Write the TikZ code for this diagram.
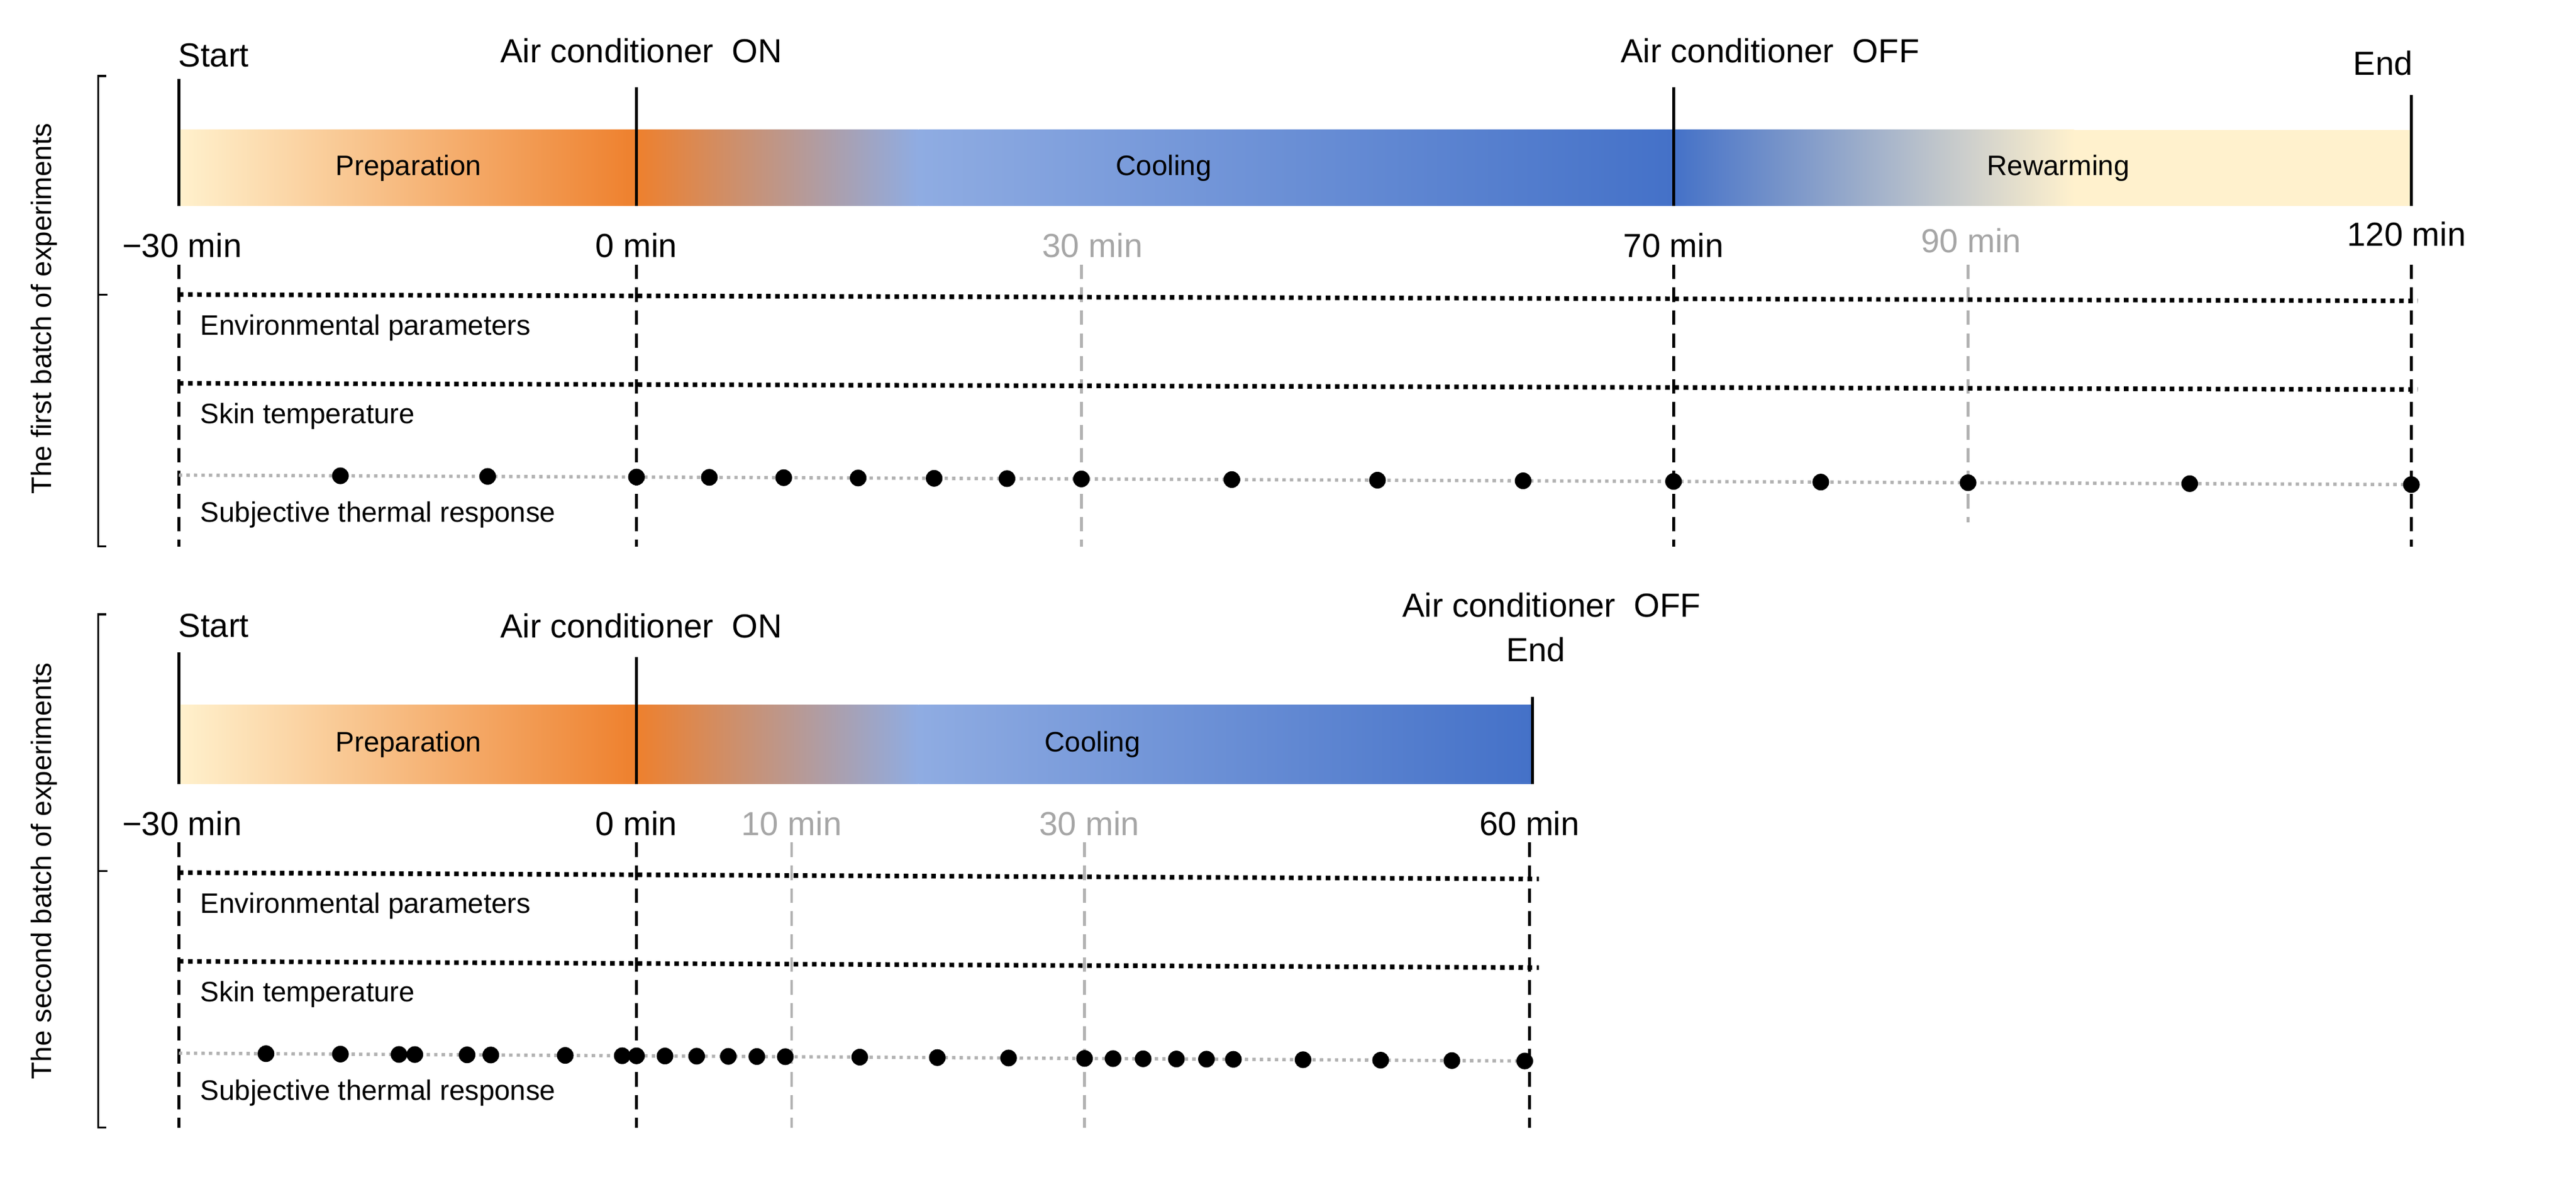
\documentclass[tikz,border=0pt]{standalone}
\usepackage{fontspec}
\setmainfont{Liberation Sans}
\begin{document}
\begin{tikzpicture}[x=0.02668cm,y=-0.02668cm,
 big/.style={font=\fontsize{16}{18}\selectfont},
 sm/.style={font=\fontsize{13.5}{15}\selectfont},
 gr/.style={text=gray!70},
 dd/.style={line width=1.3pt,dash pattern=on 7pt off 4pt},
 gd/.style={dd,gray!60},
 bd/.style={line width=2.2pt,dash pattern=on 2.2pt off 2.2pt},
 gdot/.style={line width=1.6pt,dash pattern=on 1.6pt off 2pt,gray!60},
 pt/.style={circle,fill=black,inner sep=0pt,minimum size=8pt}]
\useasboundingbox (0,0) rectangle (1627,757);
\definecolor{cr}{RGB}{255,241,205}
\definecolor{og}{RGB}{238,128,45}
\definecolor{lb}{RGB}{143,172,226}
\definecolor{bl}{RGB}{68,113,200}
% ---------- top panel
\shade[left color=cr,right color=og] (113,82) rectangle (402,130);
\shade[left color=og,right color=lb] (402,82) rectangle (580,130);
\shade[left color=lb,right color=bl] (580,82) rectangle (1057,130);
\shade[left color=bl,right color=cr] (1057,82) rectangle (1310,130);
\fill[cr] (1310,82) rectangle (1523,130);
\foreach \x/\t in {113/50,402/55,1057/55,1523/60} \draw[line width=1.3pt] (\x,\t)--(\x,130);
\node[big] (s1) at (135,35) {Start};
\node[big] (on1) at (405,32) {Air conditioner\ \ ON};
\node[big] (off1) at (1118,32) {Air conditioner\ \ OFF};
\node[big] (e1) at (1505,40) {End};
\node[sm] at (258,106) {Preparation};
\node[sm] at (735,106) {Cooling};
\node[sm] at (1300,106) {Rewarming};
\node[big] at (115,155) {−30 min};
\node[big] at (402,155) {0 min};
\node[big,gr] at (690,155) {30 min};
\node[big] at (1057,155) {70 min};
\node[big,gr] at (1245,152) {90 min};
\node[big] at (1520,148) {120 min};
\foreach \x in {113,402,1057,1523} \draw[dd] (\x,167)--(\x,345);
\draw[gd] (683,167)--(683,345);
\draw[gd] (1243,167)--(1243,330);
\draw[bd] (113,186)--(1527,190);
\draw[bd] (113,242)--(1527,246);
\draw[gdot] (113,300)--(1527,306);
\foreach \x in {215,308,402,448,495,542,590,636,683,778,870,962,1057,1150,1243,1383,1523}
  \node[pt] at (\x,{300+6*(\x-113)/1414}) {};
\node[sm,anchor=west] at (122,207) {Environmental parameters};
\node[sm,anchor=west] at (122,263) {Skin temperature};
\node[sm,anchor=west] at (122,325) {Subjective thermal response};
\draw[line width=1pt] (67,48)--(62,48)--(62,345)--(67,345);
\draw[line width=1pt] (62,186)--(68,186);
\node[sm,rotate=90] at (28,195) {The first batch of experiments};
% ---------- bottom panel
\shade[left color=cr,right color=og] (113,445) rectangle (402,495);
\shade[left color=og,right color=lb] (402,445) rectangle (580,495);
\shade[left color=lb,right color=bl] (580,445) rectangle (968,495);
\foreach \x/\t in {113/412,402/415,968/440} \draw[line width=1.3pt] (\x,\t)--(\x,495);
\node[big] (s2) at (135,395) {Start};
\node[big] (on2) at (405,395) {Air conditioner\ \ ON};
\node[big] (off2) at (980,382) {Air conditioner\ \ OFF};
\node[big] (e2) at (970,410) {End};
\node[sm] at (258,470) {Preparation};
\node[sm] at (690,470) {Cooling};
\node[big] at (115,520) {−30 min};
\node[big] at (402,520) {0 min};
\node[big,gr] at (500,520) {10 min};
\node[big,gr] at (688,520) {30 min};
\node[big] at (966,520) {60 min};
\foreach \x in {113,402,966} \draw[dd] (\x,532)--(\x,712);
\draw[gd] (500,532)--(500,712);
\draw[gd] (685,532)--(685,712);
\draw[bd] (113,551)--(972,555);
\draw[bd] (113,607)--(972,611);
\draw[gdot] (113,665)--(970,670);
\foreach \x in {168,215,252,262,295,310,357,393,402,420,440,460,478,496,543,592,637,685,703,722,743,762,779,823,872,917,963}
  \node[pt] at (\x,{665+5*(\x-113)/857}) {};
\node[sm,anchor=west] at (122,572) {Environmental parameters};
\node[sm,anchor=west] at (122,628) {Skin temperature};
\node[sm,anchor=west] at (122,690) {Subjective thermal response};
\draw[line width=1pt] (67,388)--(62,388)--(62,712)--(67,712);
\draw[line width=1pt] (62,550)--(68,550);
\node[sm,rotate=90] at (28,550) {The second batch of experiments};
\end{tikzpicture}
\end{document}
